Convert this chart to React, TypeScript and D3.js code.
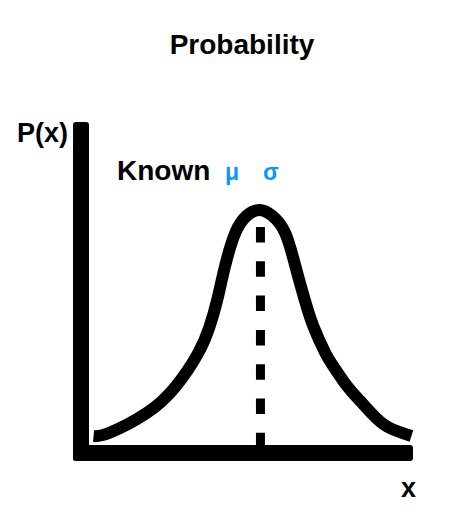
import React from "react";
import * as d3 from "d3";

// Bell curve sampled in sigma units (x) and relative density (y, peak = 1)
const curveX = [-3.22, -2.91, -2.19, -1.63, -1.19, -0.97, -0.82, -0.67, -0.47, -0.25, 0, 0.25, 0.5, 0.7, 0.88, 1.05, 1.28, 1.44, 1.71, 1.94, 2.17, 2.48, 2.95];
const curveY = [0.038, 0.052, 0.136, 0.248, 0.391, 0.503, 0.617, 0.759, 0.902, 0.975, 1.0, 0.975, 0.902, 0.759, 0.617, 0.503, 0.391, 0.333, 0.248, 0.191, 0.136, 0.078, 0.038];

const meanX = 0;
const titleText = "Probability";
const yAxisLabel = "P(x)";
const xAxisLabel = "x";
const knownLabel = "Known";
const paramSymbols = ["μ", "σ"];

const W = 464;
const H = 528;

export default function App() {
  const x = d3.scaleLinear().domain([-3.6, 3.0]).range([74, 414]);
  const y = d3.scaleLinear().domain([0, 1]).range([445, 210]);

  const pts: [number, number][] = curveX.map((v, i) => [v, curveY[i]]);
  const line = d3
    .line<[number, number]>()
    .x((d) => x(d[0]))
    .y((d) => y(d[1]))
    .curve(d3.curveNatural);

  const font = "'Liberation Sans', Arial, Helvetica, sans-serif";
  const axisW = 16;
  const [x0, x1] = x.range();
  const yBase = y(0);

  return (
    <svg
      width={W}
      height={H}
      style={{ position: "absolute", left: 0, top: 0, background: "#fff" }}
      fontFamily={font}
    >
      <text x={242} y={54} textAnchor="middle" fontSize={28} fontWeight="bold" fill="#000">
        {titleText}
      </text>

      {/* mean marker */}
      <line
        x1={x(meanX) + 1}
        x2={x(meanX) + 1}
        y1={227}
        y2={yBase}
        stroke="#000"
        strokeWidth={9}
        strokeDasharray="15.5 18.8"
      />

      {/* density curve */}
      <path d={line(pts) || ""} fill="none" stroke="#000" strokeWidth={12} strokeLinecap="butt" />

      {/* axes */}
      <rect x={x0 - 1} y={122} width={axisW} height={yBase + axisW - 122} rx={3} fill="#000" />
      <rect x={x0 - 1} y={yBase} width={x1 - x0} height={axisW} rx={3} fill="#000" />

      <text x={17} y={142} fontSize={27} fontWeight="bold" fill="#000">
        {yAxisLabel}
      </text>
      <text x={401} y={497} fontSize={27} fontWeight="bold" fill="#000">
        {xAxisLabel}
      </text>

      <text x={117} y={180} fontSize={28} fontWeight="bold" fill="#000">
        {knownLabel}
      </text>
      <text x={225} y={180} fontSize={23} fontWeight="bold" fill="#0a96f5">
        {paramSymbols[0]}
      </text>
      <text x={263} y={180} fontSize={23} fontWeight="bold" fill="#0a96f5">
        {paramSymbols[1]}
      </text>
    </svg>
  );
}
